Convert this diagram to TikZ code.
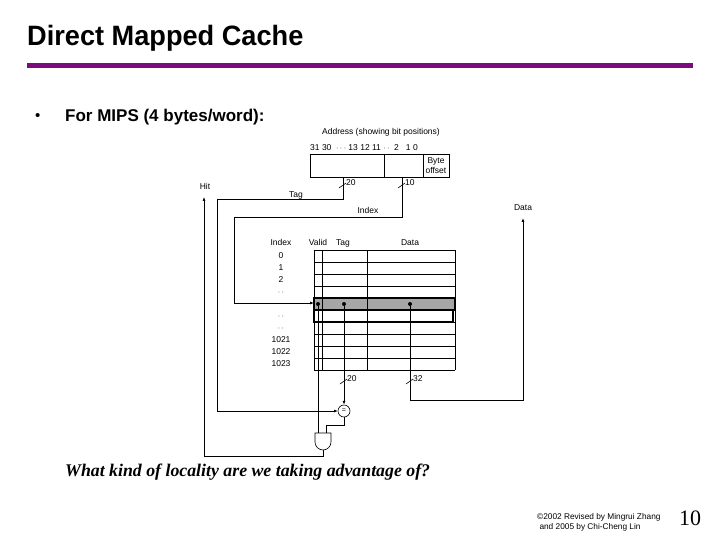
\documentclass[tikz,border=0pt]{standalone}
\usepackage{fontspec}
\setmainfont{Liberation Sans}
\newfontfamily\serifit{Liberation Serif}
\usetikzlibrary{arrows.meta}
\definecolor{barpurple}{HTML}{7B0C7B}
\begin{document}
\begin{tikzpicture}[x=1pt,y=-1pt,
  sm/.style={font=\fontsize{8.5}{10}\selectfont, inner sep=0pt, text height=6.5pt, text depth=1.5pt},
  wire/.style={line width=1pt},
  thin/.style={line width=0.6pt},
  arr/.style={-{Latex[length=4pt,width=3pt]}},
  dot/.style={circle, fill=black, inner sep=0pt, minimum size=4pt}]
\useasboundingbox (0,0) rectangle (720,540);
% title
\node[anchor=west, inner sep=0pt, font=\fontsize{28}{30}\selectfont\bfseries, xscale=0.97, transform shape] (title) at (27,38) {Direct Mapped Cache};
\fill[barpurple] (27,63) rectangle (693,68);
\node[anchor=west, inner sep=0pt, font=\fontsize{15}{17}\selectfont] (bul) at (35,117) {•};
\node[anchor=west, inner sep=0pt, font=\fontsize{17}{19}\selectfont\bfseries] (mips) at (65,117) {For MIPS (4 bytes/word):};
% address
\node[sm] (addrlab) at (381,132) {Address (showing bit positions)};
\node[sm, anchor=west] (bits) at (310,148) {31 30 \ $\cdot$\,$\cdot$\,$\cdot$ 13 12 11 $\cdot$\,$\cdot$ \ 2 \ \ 1 0};
\draw[thin] (310,154) rectangle (449,177);
\draw[thin] (384,154) -- (384,177);
\draw[thin] (423,154) -- (423,177);
\node[sm, align=center, font=\fontsize{8.5}{9.5}\selectfont, text height=, text depth=] (bo) at (436,165.5) {Byte\\offset};
\coordinate (tagsrc) at (343,177);
\coordinate (idxsrc) at (402,177);
% tag wire
\coordinate (eqin) at (338,411);
\draw[wire, arr] (tagsrc) -- (343,200) -- (217,200) -- (217,411) -- (eqin);
\draw[thin] (339,188) -- (346,183);
\node[sm, anchor=west] (n20a) at (346,183) {20};
\node[sm] (taglab) at (296,195) {Tag};
% index wire
\draw[wire, arr] (idxsrc) -- (402,218) -- (234,218) -- (234,303) -- (314,303);
\draw[thin] (398,188) -- (405,183);
\node[sm, anchor=west] (n10) at (405,183) {10};
\node[sm] (idxlab) at (368,211) {Index};
% table
\node[sm] (hIndex) at (281,243) {Index};
\node[sm] (hValid) at (318,243) {Valid};
\node[sm] (hTag) at (343,243) {Tag};
\node[sm] (hData) at (410,243) {Data};
\fill[gray!70] (314,298) rectangle (455,310);
\foreach \y in {250,262,274,286,298,310,322,334,346,358,370} \draw[thin] (314,\y) -- (455,\y);
\draw[thin] (314,250) -- (314,370);
\draw[thin] (322,250) -- (322,370);
\draw[thin] (367,250) -- (367,370);
\draw[thin] (455,250) -- (455,370);
\draw[line width=1.1pt] (314,298) rectangle (455,310);
\draw[line width=1.1pt] (314,310) rectangle (453,322);
\foreach \t/\y in {0/256,1/268,2/280,{$\cdot\,\cdot$}/292,{$\cdot\,\cdot$}/316,{$\cdot\,\cdot$}/328,1021/340,1022/352,1023/364}
  \node[sm] at (281,\y) {\t};
\node[dot] (dv) at (318,304) {};
\node[dot] (dt) at (344,304) {};
\node[dot] (dd) at (410,304) {};
% comparator
\draw[thin, fill=white] (344,411) circle (6);
\node[inner sep=0pt, minimum size=12pt] (eq) at (344,411) {};
\node[font=\fontsize{7}{7}\selectfont, inner sep=0pt] at (344,411) {=};
\draw[wire, arr] (dt) -- (eq.north);
\draw[thin] (340,384) -- (347,379);
\node[sm, anchor=west] (n20b) at (347,379) {20};
% data
\coordinate (dataout) at (523,218);
\draw[wire, arr] (dd) -- (410,400) -- (523,400) -- (dataout);
\draw[thin] (406,384) -- (413,379);
\node[sm, anchor=west] (n32) at (413,379) {32};
\node[sm] (datalab) at (523,208) {Data};
% AND gate
\draw[thin] (315,433) -- (331,433) -- (331,442) arc (0:180:8) -- cycle;
\coordinate (andout) at (323,450);
\draw[thin] (dv) -- (318,433);
\draw[thin] (eq.south) -- (344,425) -- (326,425) -- (326,433);
% hit
\coordinate (hit) at (204,197);
\draw[thin, arr] (andout) -- (323,456) -- (204,456) -- (hit);
\node[sm] (hitlab) at (205,187) {Hit};
% question
\node[anchor=west, inner sep=0pt, font=\serifit\fontsize{17.8}{19}\selectfont\bfseries\itshape] (q) at (65,472) {What kind of locality are we taking advantage of?};
% footer
\node[anchor=west, inner sep=0pt, align=left, font=\fontsize{8.3}{10}\selectfont] (foot) at (537,522) {\textcopyright2002 Revised by Mingrui Zhang\\\ and 2005 by Chi-Cheng Lin};
\node[inner sep=0pt, font=\serifit\fontsize{22}{24}\selectfont] (pg) at (690,518) {10};
\end{tikzpicture}
\end{document}
